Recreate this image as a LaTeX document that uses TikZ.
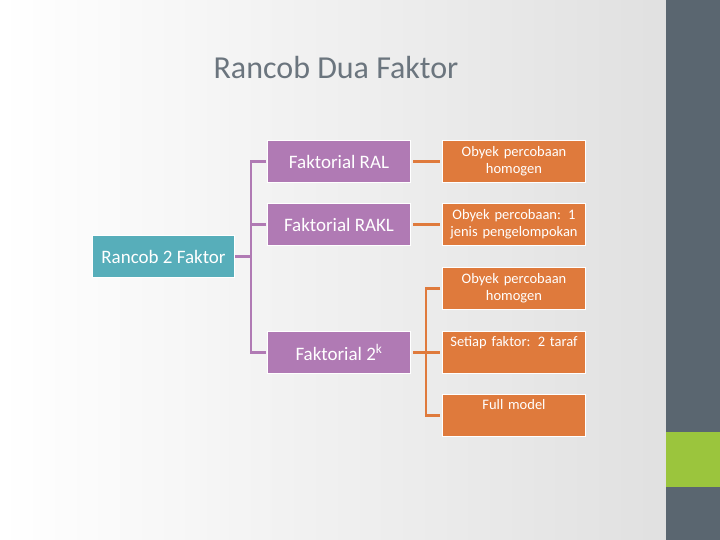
\documentclass[tikz,border=0pt]{standalone}
\usepackage{fontspec}
\setmainfont{Carlito}
\begin{document}
\begin{tikzpicture}[x=1pt,y=-1pt,
  box/.style={draw=white,line width=1pt,minimum width=143pt,minimum height=42pt,inner sep=2pt,text=white,anchor=north west},
  pbox/.style={box,fill=purp,font=\fontsize{19}{21}\selectfont},
  obox/.style={box,fill=oran,font=\fontsize{14.5}{17}\selectfont,align=center,text width=139pt},
  pl/.style={draw=purp,line width=2.5pt},
  ol/.style={draw=oran,line width=2.5pt}]
\definecolor{purp}{HTML}{B07AB4}
\definecolor{oran}{HTML}{DF7A3C}
\definecolor{teal}{HTML}{57AEBA}
\definecolor{sgray}{HTML}{5A6670}
\definecolor{sgreen}{HTML}{9BC53D}
\useasboundingbox (0,0) rectangle (720,540);
\shade[left color=white,right color=black!12] (0,0) rectangle (666,540);
\fill[sgray] (666,0) rectangle (720,540);
\fill[sgreen] (666,432) rectangle (720,487);
\node[text=sgray!90,font=\fontsize{32}{36}\selectfont] (title) at (336,68) {Rancob Dua Faktor};
\node[box,fill=teal,minimum width=142pt,font=\fontsize{19}{21}\selectfont] (root) at (92,235) {Rancob 2 Faktor};
\node[pbox] (ral) at (267,140) {Faktorial RAL};
\node[pbox] (rakl) at (267,203) {Faktorial RAKL};
\node[pbox] (tk) at (267,331) {Faktorial 2\textsuperscript{k}};
\node[obox,minimum height=42pt] (o1) at (442,140) {Obyek percobaan\\homogen};
\node[obox] (o2) at (442,203) {Obyek percobaan: 1\\jenis pengelompokan};
\node[obox] (o3) at (442,267) {Obyek percobaan\\homogen};
\node[obox] (o4) at (442,331) {Setiap faktor: 2 taraf\\\strut};
\node[obox] (o5) at (442,394) {Full model\\\strut};
\coordinate (tr) at (251,0);
\draw[pl] (root.east) -- (root.east -| tr);
\draw[pl] ([xshift=-1pt]ral.west) -| (tr |- tk.west) -- ([xshift=-1pt]tk.west);
\draw[pl] ([xshift=-1pt]rakl.west) -- (rakl.west -| tr);
\draw[ol] ([xshift=2pt]ral.east) -- ([xshift=-2pt]o1.west);
\draw[ol] ([xshift=2pt]rakl.east) -- ([xshift=-2pt]o2.west);
\coordinate (ob) at (426,0);
\draw[ol] ([xshift=2pt]tk.east) -- ([xshift=-2pt]o4.west);
\draw[ol] ([xshift=-2pt]o3.west) -| (ob |- o5.west) -- ([xshift=-2pt]o5.west);
\end{tikzpicture}
\end{document}
